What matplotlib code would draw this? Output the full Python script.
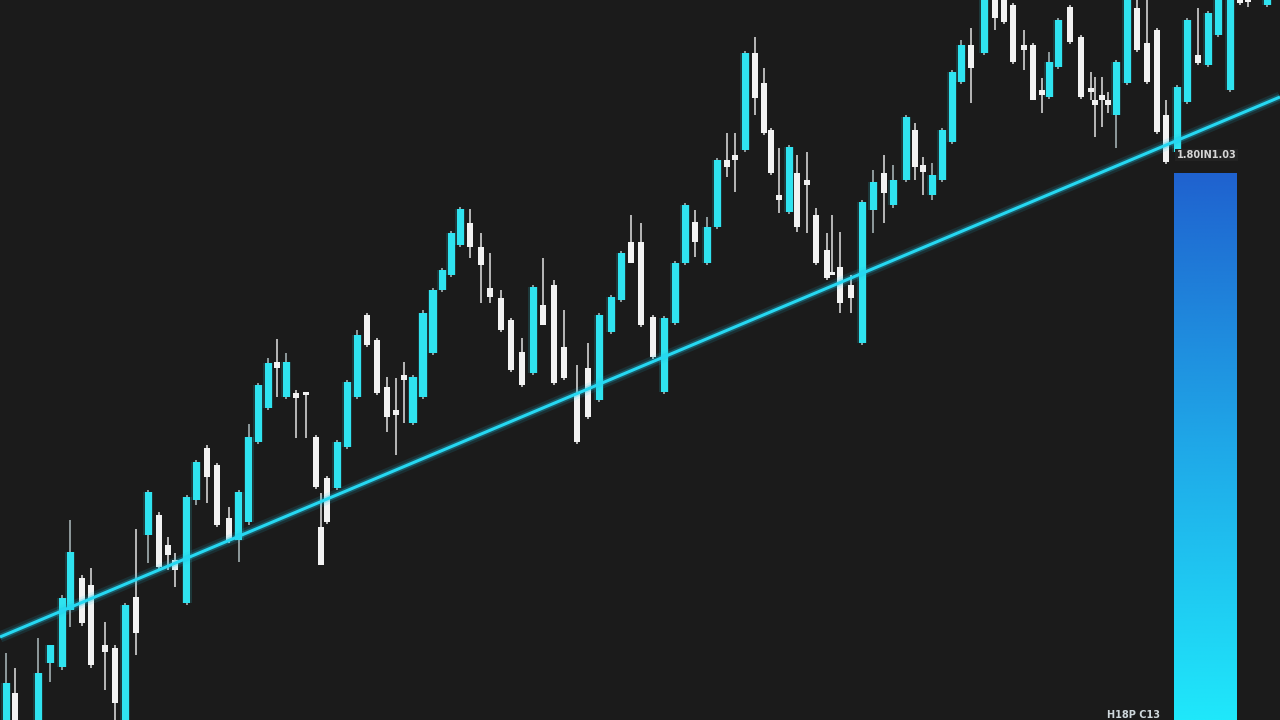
import numpy as np
import matplotlib
matplotlib.use("Agg")
import matplotlib.pyplot as plt
from matplotlib.colors import LinearSegmentedColormap

# ---- data ----
session = [0.6, 1.5, 3.8, 5.0, 6.2, 7.0, 8.2, 9.1, 10.5, 11.5,
           12.5, 13.6, 14.8, 15.9, 16.8, 17.5, 18.7, 19.6, 20.7, 21.7,
           22.9, 23.9, 24.9, 25.8, 26.8, 27.7, 28.6, 29.6, 30.6, 31.6,
           32.1, 32.7, 33.7, 34.7, 35.7, 36.7, 37.7, 38.7, 39.6, 40.4,
           41.3, 42.3, 43.3, 44.2, 45.1, 46.0, 47.0, 48.1, 49.0, 50.1,
           51.1, 52.2, 53.3, 54.3, 55.4, 56.4, 57.7, 58.8, 59.9, 61.1,
           62.1, 63.1, 64.1, 65.3, 66.4, 67.5, 68.5, 69.5, 70.7, 71.7,
           72.7, 73.5, 74.5, 75.5, 76.4, 77.1, 77.9, 78.9, 79.7, 80.7,
           81.6, 82.7, 83.2, 84.0, 85.1, 86.2, 87.3, 88.4, 89.3, 90.6,
           91.5, 92.3, 93.2, 94.2, 95.2, 96.1, 97.1, 98.4, 99.5, 100.4,
           101.3, 102.4, 103.3, 104.2, 104.9, 105.8, 107.0, 108.1, 109.1, 109.5,
           110.2, 110.8, 111.6, 112.7, 113.7, 114.7, 115.7, 116.6, 117.7, 118.7,
           119.8, 120.8, 121.8, 123.0, 124.0, 124.8, 126.7]

open_ = [100.0, 102.7, 99.8, 105.7, 105.3, 111.0, 114.2, 113.5, 107.5, 107.2,
         99.8, 112.3, 118.5, 120.5, 117.5, 116.0, 111.7, 122.0, 127.2, 125.5,
         120.2, 118.0, 119.8, 127.8, 131.2, 135.8, 132.3, 132.7, 132.7, 128.3,
         119.3, 124.2, 123.2, 127.3, 132.3, 140.5, 138.0, 133.3, 131.0, 134.5,
         129.7, 132.3, 136.7, 143.0, 144.5, 147.5, 149.7, 147.3, 143.2, 142.2,
         140.0, 136.8, 134.7, 141.5, 143.5, 137.3, 132.7, 135.2, 132.0, 138.8,
         142.0, 147.8, 147.8, 140.3, 132.8, 139.7, 145.7, 149.8, 145.7, 149.3,
         156.0, 156.5, 157.0, 166.7, 163.7, 159.0, 152.5, 150.8, 154.7, 154.0,
         150.5, 147.0, 144.8, 145.3, 143.5, 137.7, 151.0, 154.7, 151.5, 154.0,
         159.0, 155.5, 152.5, 154.0, 157.8, 163.8, 167.5, 166.7, 172.5, 172.5,
         171.5, 167.5, 167.5, 163.0, 162.3, 165.3, 171.3, 168.3, 163.2, 162.0,
         162.5, 162.0, 160.5, 163.7, 171.2, 167.7, 169.0, 160.5, 156.8, 161.8,
         166.5, 165.5, 168.5, 163.0, 173.0, 173.0, 171.5]

close = [103.7, 99.5, 104.7, 107.5, 112.2, 116.8, 109.7, 105.5, 106.8, 101.7,
         111.5, 108.7, 122.8, 115.3, 116.5, 115.0, 122.3, 125.8, 124.3, 119.5,
         118.0, 122.8, 128.3, 133.5, 135.7, 135.2, 135.8, 132.2, 132.5, 123.3,
         115.5, 119.8, 127.8, 133.8, 138.5, 137.5, 132.7, 130.3, 130.5, 134.0,
         134.3, 140.7, 143.0, 145.0, 148.7, 151.1, 147.3, 145.5, 142.3, 139.0,
         135.0, 133.5, 143.3, 139.5, 133.7, 134.2, 127.8, 130.3, 140.5, 142.3,
         146.7, 145.7, 139.5, 136.3, 140.2, 145.7, 151.5, 147.8, 149.3, 156.0,
         155.3, 156.0, 166.7, 162.2, 158.7, 154.7, 152.0, 157.3, 149.3, 153.5,
         145.7, 144.2, 144.5, 141.7, 142.2, 151.8, 153.8, 152.7, 154.0, 160.3,
         155.3, 154.8, 154.5, 159.0, 164.8, 167.5, 165.2, 172.0, 170.2, 169.8,
         165.8, 167.0, 162.0, 162.5, 165.8, 170.0, 167.8, 162.3, 162.8, 161.5,
         162.0, 161.5, 165.8, 172.0, 167.0, 163.8, 158.8, 155.8, 163.3, 170.0,
         165.7, 170.7, 172.0, 172.0, 171.7, 171.8, 173.0]

high = [106.7, 105.2, 108.2, 107.5, 112.5, 120.0, 114.5, 115.2, 109.8, 107.5,
        111.7, 119.1, 123.0, 120.8, 118.3, 116.7, 122.5, 126.0, 127.5, 125.7,
        121.3, 123.0, 129.6, 133.7, 136.2, 138.1, 136.7, 133.0, 132.8, 128.5,
        122.7, 124.4, 128.0, 134.0, 139.0, 140.7, 138.2, 134.3, 134.2, 135.8,
        134.5, 141.0, 143.2, 145.2, 148.9, 151.3, 151.1, 148.7, 146.7, 143.0,
        140.2, 138.2, 143.5, 146.2, 144.0, 141.0, 135.5, 137.7, 140.7, 142.5,
        146.9, 150.5, 149.7, 140.5, 140.4, 145.9, 151.7, 151.0, 150.3, 156.2,
        158.7, 158.7, 166.9, 168.3, 165.2, 159.2, 157.2, 157.5, 156.5, 156.8,
        151.2, 148.7, 150.5, 148.8, 144.5, 152.0, 155.0, 156.5, 155.5, 160.5,
        159.7, 156.3, 155.7, 159.2, 165.0, 168.0, 169.2, 172.5, 172.5, 172.5,
        171.7, 169.0, 167.7, 164.2, 166.8, 170.2, 171.5, 168.5, 164.8, 164.3,
        164.3, 162.8, 166.0, 172.5, 172.5, 172.5, 169.2, 162.0, 163.5, 170.2,
        171.2, 170.9, 172.5, 172.5, 173.0, 173.0, 173.0]

low = [99.5, 99.5, 99.5, 103.8, 105.0, 109.3, 109.4, 105.2, 103.0, 99.8,
       99.5, 106.5, 115.7, 115.0, 115.0, 113.3, 111.5, 121.5, 121.7, 119.3,
       117.7, 115.8, 119.5, 127.6, 131.0, 132.3, 132.1, 128.2, 128.2, 123.1,
       115.5, 119.6, 123.0, 127.1, 132.1, 137.3, 132.5, 128.8, 126.5, 129.7,
       129.5, 132.1, 136.5, 142.8, 144.3, 147.3, 146.2, 141.7, 141.7, 138.8,
       134.8, 133.3, 134.5, 139.5, 133.5, 134.0, 127.6, 130.1, 131.8, 138.6,
       141.8, 145.7, 139.3, 136.1, 132.6, 139.5, 145.5, 146.3, 145.5, 149.1,
       154.3, 152.8, 156.8, 160.5, 158.5, 154.5, 150.7, 150.6, 148.8, 148.7,
       145.5, 144.0, 144.5, 140.7, 140.7, 137.5, 148.7, 149.7, 151.2, 153.8,
       154.0, 152.5, 152.0, 153.8, 157.6, 163.6, 161.7, 166.5, 169.0, 169.6,
       165.6, 165.0, 162.0, 160.7, 162.1, 165.1, 167.6, 162.1, 162.0, 158.3,
       159.3, 160.7, 157.2, 163.5, 166.8, 163.6, 158.6, 155.6, 156.6, 161.6,
       165.5, 165.3, 168.3, 162.8, 171.5, 171.3, 171.3]

trend_start = (0.0, 108.3)
trend_end = (128.0, 162.3)

gauge_left, gauge_right = 117.4, 123.7
gauge_top = 154.7
gauge_label = "1.80IN1.03"
bottom_label = "H18P C13"

# ---- styling ----
BG = "#1b1b1b"
CYAN = "#2fe3f0"
WHITE = "#f2f2f2"
LINE = "#1cc6e6"

fig = plt.figure(figsize=(12.8, 7.2), dpi=100, facecolor=BG)
ax = fig.add_axes([0, 0, 1, 1])
ax.set_facecolor(BG)
ax.set_xlim(0, 128)
ax.set_ylim(100, 172)
ax.axis("off")

o = np.array(open_)
c = np.array(close)
h = np.array(high)
l = np.array(low)
t = np.array(session)
up = c >= o

# wicks
ax.vlines(t[up], l[up], h[up], color="#8f9a9c", linewidth=1.4, zorder=2)
ax.vlines(t[~up], l[~up], h[~up], color="#b8b8b8", linewidth=1.4, zorder=2)

# bodies (soft glow under cyan ones)
bottoms = np.minimum(o, c)
heights = np.maximum(np.abs(c - o), 0.35)
ax.bar(t[up], heights[up], bottom=bottoms[up], width=1.0,
       color=CYAN, alpha=0.15, edgecolor="none", zorder=2.5)
ax.bar(t[up], heights[up], bottom=bottoms[up], width=0.7,
       color=CYAN, edgecolor="none", zorder=3)
ax.bar(t[~up], heights[~up], bottom=bottoms[~up], width=0.58,
       color=WHITE, edgecolor="none", zorder=3)

# trend line with glow
xs = [trend_start[0], trend_end[0]]
ys = [trend_start[1], trend_end[1]]
ax.plot(xs, ys, color=LINE, linewidth=8, alpha=0.12, zorder=4,
        solid_capstyle="butt")
ax.plot(xs, ys, color=LINE, linewidth=4.5, alpha=0.28, zorder=4,
        solid_capstyle="butt")
ax.plot(xs, ys, color="#26d8f2", linewidth=2.2, zorder=5,
        solid_capstyle="butt")

# gradient gauge bar
cmap = LinearSegmentedColormap.from_list("g", ["#1fe8fb", "#1fa8e8", "#1f62cf"])
grad = np.linspace(0, 1, 256).reshape(-1, 1)
ax.imshow(grad, extent=[gauge_left, gauge_right, 100, gauge_top],
          origin="lower", cmap=cmap, aspect="auto", zorder=6)

ax.text((gauge_left + gauge_right) / 2 + 0.1, gauge_top + 1.8, gauge_label,
        color="#d6d6d6", fontsize=7, fontweight="bold", ha="center",
        va="center", zorder=7,
        bbox=dict(boxstyle="square,pad=0.15", facecolor="#222222",
                  edgecolor="none"))
ax.text(gauge_left - 1.4, 100.5, bottom_label, color="#cfd8dc",
        fontsize=7, fontweight="bold", ha="right", va="center", zorder=7)

fig.savefig("out.png", dpi=100, facecolor=BG)
